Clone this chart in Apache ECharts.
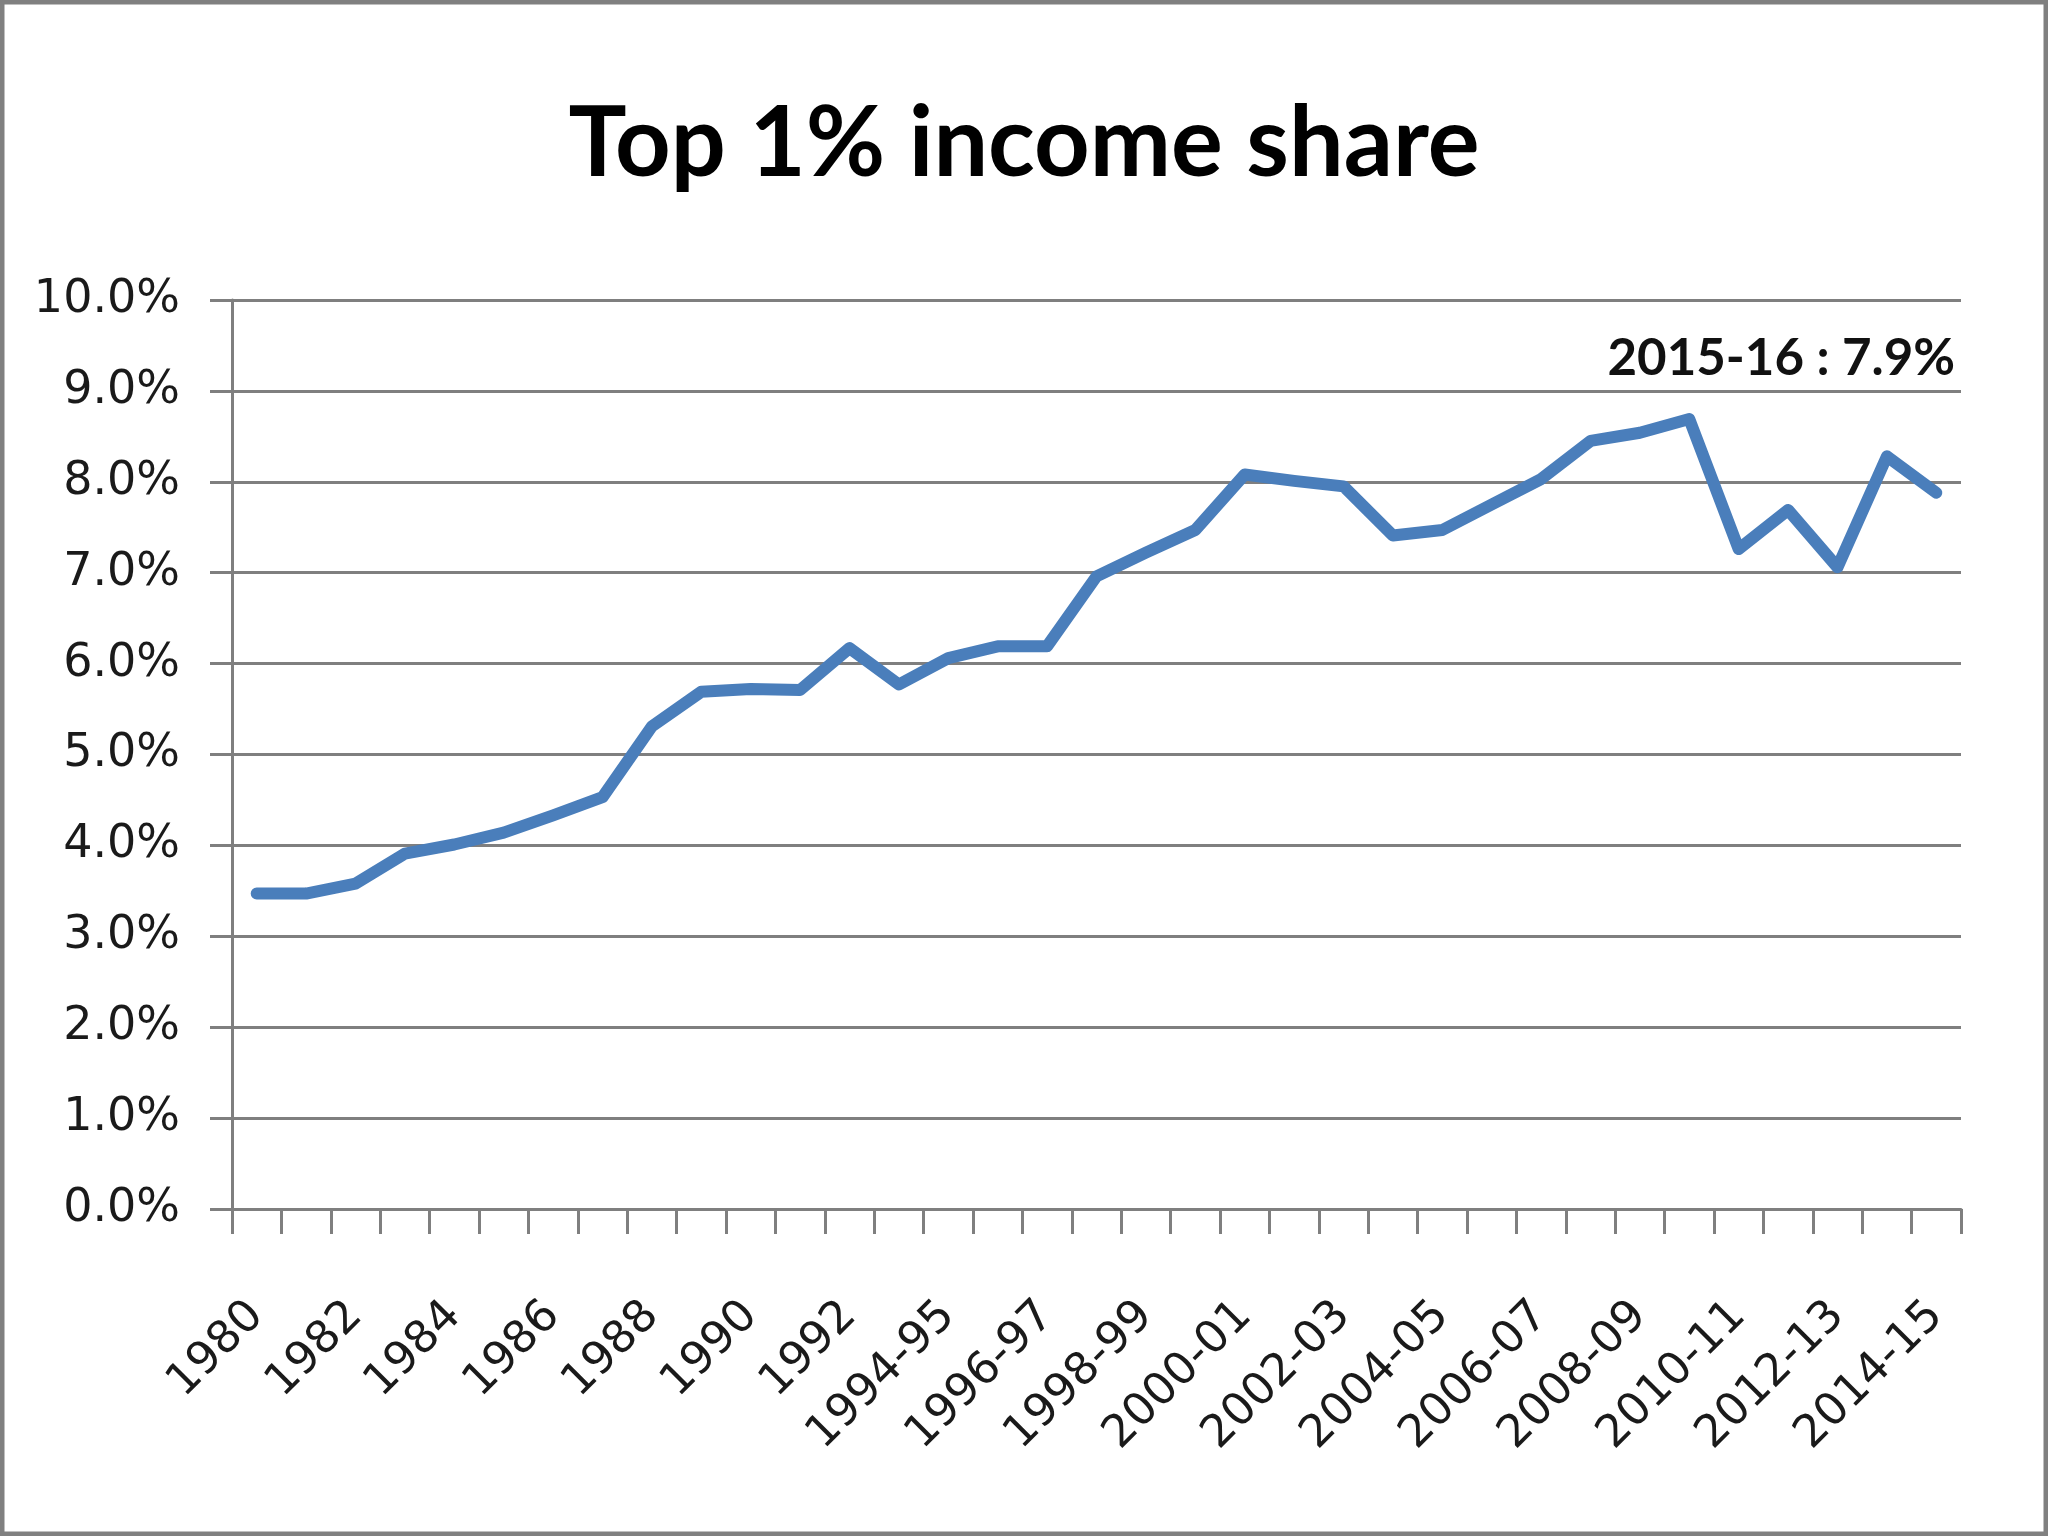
<!DOCTYPE html>
<html>
<head>
<meta charset="utf-8">
<title>Top 1% income share</title>
<script src="https://cdn.jsdelivr.net/npm/echarts@6/dist/echarts.min.js"></script>
<style>
    html, body { margin: 0; padding: 0; background: #fff; }
    #chart { width: 2048px; height: 1536px; }
</style>
</head>
<body>
<div id="chart"></div>
<script>
// 数据
const years = [
    '1980', '1981', '1982', '1983', '1984', '1985', '1986', '1987', '1988', '1989',
    '1990', '1991', '1992', '1993', '1994-95', '1995-96', '1996-97', '1997-98', '1998-99',
    '1999-00', '2000-01', '2001-02', '2002-03', '2003-04', '2004-05', '2005-06', '2006-07',
    '2007-08', '2008-09', '2009-10', '2010-11', '2011-12', '2012-13', '2013-14', '2014-15'
];
const topShare = [
    3.47, 3.47, 3.58, 3.91, 4.01, 4.14, 4.33, 4.53, 5.31, 5.69,
    5.72, 5.71, 6.17, 5.77, 6.06, 6.19, 6.19, 6.96, 7.22,
    7.47, 8.08, 8.01, 7.95, 7.41, 7.47, 7.75, 8.03,
    8.45, 8.54, 8.69, 7.26, 7.69, 7.06, 8.28, 7.88
];
const yTicks = [0, 1, 2, 3, 4, 5, 6, 7, 8, 9, 10];
const noteText = '2015-16 : 7.9%';

const gridColor = '#7f7f7f';
const labelFont = '"DejaVu Sans", Verdana, sans-serif';
const headFont = 'Lato, "Liberation Sans", sans-serif';

function initChart() {
    const chart = echarts.init(document.getElementById('chart'));
    chart.setOption({
        backgroundColor: '#fff',
        animation: false,
        title: {
            text: 'Top 1% income share',
            left: 'center',
            top: 91,
            textStyle: {
                fontFamily: headFont,
                fontSize: 97,
                fontWeight: 'bold',
                color: '#000'
            }
        },
        graphic: [
            {
                type: 'rect',
                shape: { x: 2, y: 2, width: 2044, height: 1532 },
                style: { fill: 'none', stroke: '#808080', lineWidth: 5 },
                silent: true
            },
            {
                type: 'text',
                right: 93,
                top: 333,
                style: {
                    text: noteText,
                    fontFamily: headFont,
                    fontSize: 51,
                    fontWeight: 'bold',
                    fill: '#111'
                }
            }
        ],
        grid: {
            left: 232,
            right: 87,
            top: 300,
            bottom: 327,
            containLabel: false
        },
        xAxis: {
            type: 'category',
            data: years,
            boundaryGap: true,
            axisLine: { lineStyle: { color: gridColor, width: 3 } },
            axisTick: {
                show: true,
                length: 25,
                interval: 0,
                lineStyle: { color: gridColor, width: 3 }
            },
            axisLabel: {
                interval: 1,
                rotate: 45,
                margin: 100,
                fontFamily: labelFont,
                fontSize: 45,
                color: '#1a1a1a'
            }
        },
        yAxis: {
            type: 'value',
            min: yTicks[0],
            max: yTicks[yTicks.length - 1],
            interval: 1,
            axisLine: { show: true, lineStyle: { color: gridColor, width: 3 } },
            axisTick: { show: true, length: 22, lineStyle: { color: gridColor, width: 3 } },
            splitLine: { lineStyle: { color: gridColor, width: 3 } },
            axisLabel: {
                margin: 52,
                fontFamily: labelFont,
                fontSize: 46,
                color: '#1a1a1a',
                formatter: (v) => v.toFixed(1) + '%'
            }
        },
        series: [
            {
                name: 'Top 1%',
                type: 'line',
                data: topShare,
                symbol: 'none',
                lineStyle: { color: '#4a7ebb', width: 12, cap: 'round', join: 'round' },
                itemStyle: { color: '#4a7ebb' }
            }
        ]
    });
}

document.addEventListener('DOMContentLoaded', () => {
    initChart();
});
</script>
</body>
</html>
